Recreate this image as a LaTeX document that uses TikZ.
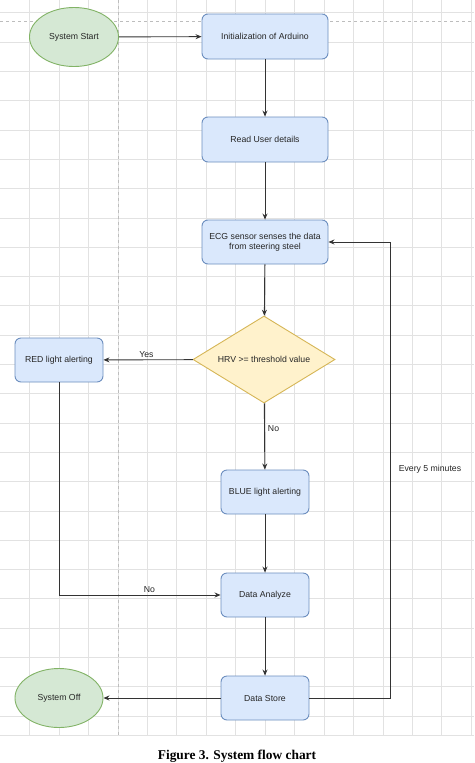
\documentclass[tikz,border=0pt]{standalone}
\usepackage{fontspec}
\setmainfont{Liberation Sans}
\newfontfamily\capfont{Liberation Serif}
\usetikzlibrary{shapes.geometric,arrows.meta}
\definecolor{bfill}{HTML}{DAE8FC}
\definecolor{bdraw}{HTML}{6C8EBF}
\definecolor{gfill}{HTML}{D5E8D4}
\definecolor{gdraw}{HTML}{82B366}
\definecolor{yfill}{HTML}{FFF2CC}
\definecolor{ydraw}{HTML}{D6B656}
\definecolor{gridc}{HTML}{E2E2E2}
\definecolor{dashc}{HTML}{BDBDBD}
\definecolor{linec}{HTML}{333333}
\begin{document}
\begin{tikzpicture}[x=1pt,y=-1pt,
  every node/.style={font=\fontsize{8.7}{10.5}\selectfont, text=black!85},
  procbox/.style={draw=bdraw, fill=bfill, rounded corners=6pt, line width=0.9pt, inner sep=0pt},
  termnode/.style={ellipse, draw=gdraw, fill=gfill, line width=0.9pt, inner sep=0pt},
  decnode/.style={diamond, draw=ydraw, fill=yfill, line width=0.9pt, inner sep=0pt, aspect=1.63, minimum width=142pt, minimum height=87pt},
  flow/.style={draw=linec, line width=0.9pt, -{Stealth[length=6pt,width=5pt]}},
  gridline/.style={draw=gridc, line width=0.6pt},
  guide/.style={draw=dashc, line width=0.8pt, dash pattern=on 3pt off 3pt},
  lbl/.style={inner sep=1pt}
]
\useasboundingbox (0,0) rectangle (474,763);
\fill[white] (0,0) rectangle (474,763);
% grid
\foreach \i in {1,...,16} \draw[gridline] (\i*29.45,0) -- (\i*29.45,735);
\foreach \j in {0,...,24} \draw[gridline] (0,12.7+\j*29.3) -- (474,12.7+\j*29.3);
\draw[gridline] (0,735) -- (474,735);
% guides
\draw[guide] (118,0) -- (118,735);
\draw[guide] (0,21) -- (474,21);

% nodes
\node[termnode, minimum width=89pt, minimum height=59pt] (start) at (74,37) {System Start};
\node[procbox, minimum width=126pt, minimum height=45pt] (init) at (265,36.5) {Initialization of Arduino};
\node[procbox, minimum width=126pt, minimum height=45pt] (read) at (265,139.5) {Read User details};
\node[procbox, minimum width=126pt, minimum height=44pt, align=center] (ecg) at (265,242) {ECG sensor senses the data\\from steering steel};
\node[decnode] (dec) at (264,359.5) {HRV >= threshold value};
\node[procbox, minimum width=88pt, minimum height=44pt] (red) at (59,360) {RED light alerting};
\node[procbox, minimum width=88pt, minimum height=44pt] (blue) at (265,492) {BLUE light alerting};
\node[procbox, minimum width=88pt, minimum height=44pt] (ana) at (265,595) {Data Analyze};
\node[procbox, minimum width=88pt, minimum height=44pt] (store) at (265,698) {Data Store};
\node[termnode, minimum width=88pt, minimum height=59pt] (off) at (59,698) {System Off};

% edges
\draw[flow] (start) -- (init);
\draw[flow] (init) -- (read);
\draw[flow] (read) -- (ecg);
\draw[flow] (ecg) -- (dec);
\draw[flow] (dec) -- node[lbl, above, pos=0.52, yshift=1pt] (yes) {Yes} (red);
\draw[flow] (dec) -- node[lbl, right, pos=0.38, xshift=2pt] (no1) {No} (blue);
\draw[flow] (blue) -- (ana);
\draw[flow] (red) |- node[lbl, above, pos=0.78, yshift=1pt] (no2) {No} (ana);
\draw[flow] (ana) -- (store);
\draw[flow] (store) -- (off);
\coordinate (loopb) at (390,698);
\coordinate (loopt) at (390,242);
\draw[flow] (store.east) -- (loopb) -- (loopt) -- (ecg.east);
\node[lbl] (every) at (430,469) {Every 5 minutes};

% caption
\node[font=\capfont\bfseries\fontsize{13.4}{15}\selectfont, text=black] (cap) at (237,756) {Figure 3. System flow chart};
\end{tikzpicture}
\end{document}
